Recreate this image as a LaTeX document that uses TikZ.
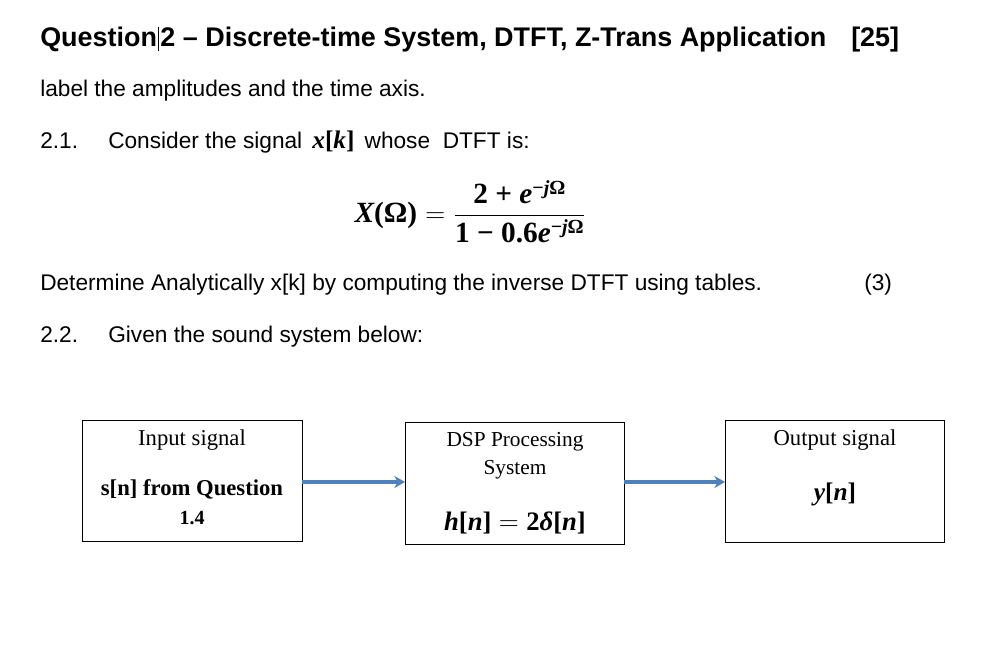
\documentclass[tikz,border=0pt]{standalone}
\usepackage{amsmath}
\usepackage{fontspec}
\setmainfont{Liberation Sans}
\newfontfamily\ser{Liberation Serif}
\usetikzlibrary{arrows.meta}
\definecolor{arrblue}{HTML}{4F81BD}
\tikzset{
 txt/.style={anchor=base west,inner sep=0pt,font=\fontsize{17}{20}\selectfont},
 box/.style={draw,line width=0.7pt},
 btxt/.style={inner sep=0pt,font=\ser\fontsize{17}{20}\selectfont},
 arr/.style={draw=arrblue,line width=3pt,-{Stealth[length=8pt,width=9pt]}}
}
\newcommand{\mi}[1]{{\ser\bfseries\itshape #1}}
\newcommand{\mr}[1]{{\ser\bfseries #1}}
\begin{document}
\begin{tikzpicture}[x=0.75pt,y=-0.75pt]
\useasboundingbox[fill=white] (0,0) rectangle (984,663);
\node[txt,font=\bfseries\fontsize{20.2}{24}\selectfont] (title) at (40,47) {Question\hspace{1pt}\rule[-3pt]{0.6pt}{18pt}\hspace{1pt}2 -- Discrete-time System, DTFT, Z-Trans Application};
\node[txt,font=\bfseries\fontsize{20.2}{24}\selectfont] (mark) at (851,47) {[25]};
\node[txt] (l1) at (40,97) {label the amplitudes and the time axis.};
\node[txt] (n21) at (40,149) {2.1.};
\node[txt] (c21) at (108,149) {Consider the signal \,{\fontsize{19}{22}\selectfont\mi{x}\mr{[}\mi{k}\mr{]}}\, whose\ \ DTFT is:};
\node[inner sep=0pt,font=\fontsize{22}{26}\selectfont] (eq) at (470,212) {\mi{X}\mr{(Ω)} $=$ $\dfrac{\text{\mr{2 + }\mi{e}\raisebox{7pt}{\fontsize{15}{17}\selectfont\mr{−}\mi{j}\mr{Ω}}}}{\text{\mr{1 − 0.6}\mi{e}\raisebox{7pt}{\fontsize{15}{17}\selectfont\mr{−}\mi{j}\mr{Ω}}}}$};
\node[txt] (det) at (40,290) {Determine Analytically x[k] by computing the inverse DTFT using tables.};
\node[txt] (pts) at (864,290) {(3)};
\node[txt] (n22) at (40,342) {2.2.};
\node[txt] (c22) at (108,342) {Given the sound system below:};
\draw[box] (82,420) rectangle (302,541);
\draw[box] (405,422) rectangle (624,544);
\draw[box] (725,420) rectangle (944,542);
\coordinate (b1r) at (302,482); \coordinate (b2l) at (405,482);
\coordinate (b2r) at (624,482); \coordinate (b3l) at (725,482);
\node[btxt] (in1) at (192,440) {Input signal};
\node[btxt,font=\ser\bfseries\fontsize{17}{20}\selectfont] (in2) at (192,489) {s[n] from Question};
\node[btxt,font=\ser\bfseries\fontsize{15}{18}\selectfont] (in3) at (192,518) {1.4};
\node[btxt,font=\ser\fontsize{16}{19}\selectfont] (d1) at (515,442) {DSP Processing};
\node[btxt,font=\ser\fontsize{16}{19}\selectfont] (d2) at (515,470) {System};
\node[btxt,font=\fontsize{20}{24}\selectfont] (d3) at (515,523) {\mi{h}\mr{[}\mi{n}\mr{]} $=$ \mr{2}\mi{δ}\mr{[}\mi{n}\mr{]}};
\node[btxt] (o1) at (835,440) {Output signal};
\node[btxt,font=\fontsize{19}{22}\selectfont] (o2) at (835,494) {\mi{y}\mr{[}\mi{n}\mr{]}};
\draw[arr] (b1r) -- (b2l);
\draw[arr] (b2r) -- (b3l);
\end{tikzpicture}
\end{document}
